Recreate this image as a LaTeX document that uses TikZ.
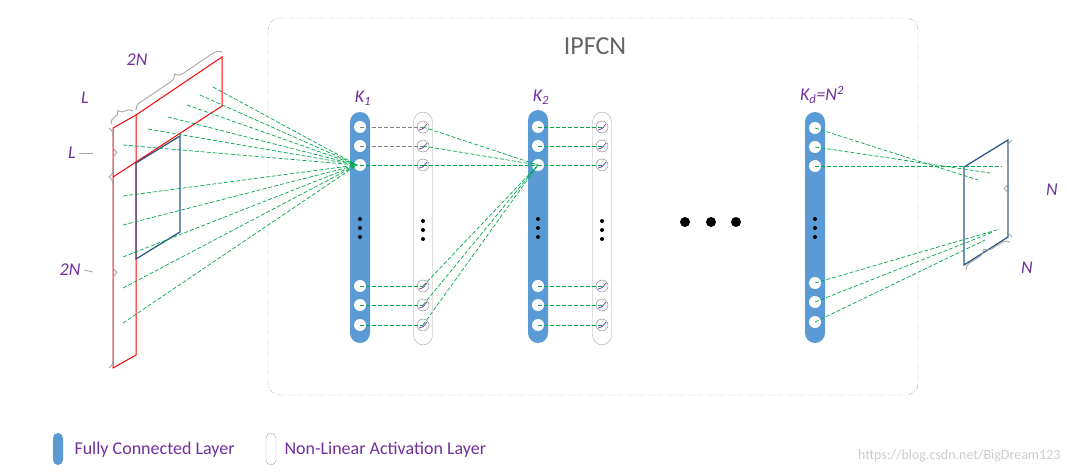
\documentclass[tikz,border=0pt]{standalone}
\usepackage{fontspec}
\setmainfont{Carlito}
\usetikzlibrary{decorations.pathreplacing}
\definecolor{pur}{HTML}{7030A0}
\definecolor{fcb}{HTML}{5B9BD5}
\definecolor{grn}{HTML}{00A84A}
\definecolor{dblue}{HTML}{2F5B8A}
\tikzset{
 fc/.style={fill=fcb,draw=none,rounded corners=10pt,minimum width=20pt,inner sep=0},
 act/.style={fill=white,draw=gray!70,rounded corners=10pt,minimum width=19pt,inner sep=0},
 neur/.style={circle,fill=white,draw=none,minimum size=12pt,inner sep=0},
 aneur/.style={circle,fill=white,draw=gray,minimum size=12pt,inner sep=0,
   path picture={\draw[pur,line width=0.7pt] ([xshift=-4pt,yshift=-3pt]path picture bounding box.center) .. controls ([xshift=0pt,yshift=-2pt]path picture bounding box.center) .. ([xshift=4pt,yshift=3pt]path picture bounding box.center);}},
 gd/.style={grn,dash pattern=on 4pt off 2pt,line width=0.7pt},
 gyd/.style={gray,dash pattern=on 4pt off 2pt,line width=0.7pt},
 lab/.style={pur,font=\itshape\fontsize{18}{18}\selectfont},
 br/.style={gray!70,line width=0.9pt,decorate,decoration={brace,amplitude=8pt}},
 dot/.style={circle,fill=black,inner sep=0,minimum size=4pt},
 bdot/.style={circle,fill=black,inner sep=0,minimum size=10pt}
}
\begin{document}
\begin{tikzpicture}[x=1pt,y=-1pt]
\useasboundingbox[fill=white] (0,0) rectangle (1067,473);
% frame
\draw[gray!60,dash pattern=on 5pt off 2pt on 1pt off 2pt,rounded corners=12pt] (268,18) rectangle (918,395);
\node[gray!80!black,font=\fontsize{26}{26}\selectfont] (title) at (595,46) {IPFCN};
% layers
\node[fc,minimum height=231pt] (F1) at (360,227.5) {};
\node[act,minimum height=233pt] (A1) at (423,228.5) {};
\node[fc,minimum height=233pt] (F2) at (538,226.5) {};
\node[act,minimum height=233pt] (A2) at (602,228.5) {};
\node[fc,minimum height=231pt] (F3) at (815,227.5) {};
\foreach \L/\x/\xa in {1/360/423,2/538/602}{
 \foreach \y [count=\i] in {127,146,165,286,305,325}{
  \node[neur] (f\L\i) at (\x,\y) {};
  \node[aneur] (a\L\i) at (\xa,\y) {};
 }
 \foreach \y in {219,228,237}{\node[dot] at (\x,\y) {}; \node[dot] at (\xa,\y+2) {};}
}
\foreach \y [count=\i] in {128,147,166,283,302,322}{\node[neur] (f3\i) at (815,\y) {};}
\foreach \y in {219,228,237}{\node[dot] at (815,\y) {};}
\node[bdot] (e1) at (685,222) {};
\node[bdot] (e2) at (711,222) {};
\node[bdot] (e3) at (736,222) {};
\node[lab] (k1) at (363,98) {K\textsubscript{1}};
\node[lab] (k2) at (541,97) {K\textsubscript{2}};
\node[lab] (kd) at (822,95) {K\textsubscript{d}=N\textsuperscript{2}};
% input block
\draw[red,line width=1pt] (113,128) -- (113,368) -- (136,355) -- (136,115) -- (222,57) -- (222,106) -- (113,177);
\draw[red,line width=1pt] (113,128) -- (136,115);
\draw[dblue,line width=1.3pt] (136,163) -- (180,136) -- (180,232) -- (136,259) -- cycle;
\draw[br] (109,128) -- (109,177);
\draw[br] (109,177) -- (109,368);
\draw[br] (111,124) -- (133,111);
\draw[br] (136,110) -- (222,52);
\node[lab] (L1) at (72,153) {L};
\node[lab] (L2) at (85,98) {L};
\node[lab] (N1) at (70,270) {2N};
\node[lab] (N2) at (137,60) {2N};
\draw[gray!70,line width=0.8pt] (L1.east) -- (93,153);
\draw[gray!70,line width=0.8pt] (N1.east) -- (93,272);
% input connections
\coordinate (tgt) at (357,165);
\foreach \px/\py in {213/87,200/95,187/105,168/117,148/129,123/145,123/196,123/225,123/257,123/288,123/323}
 \draw[gd] (\px,\py) -- (tgt);
% layer 1 -> act1
\draw[gyd] (f11.center) -- (a11.center); \draw[gyd] (f12.center) -- (a12.center); \draw[gd] (f13.center) -- (a13.center);
\foreach \i in {4,5,6}{\draw[gd] (f1\i.center) -- (a1\i.center);}
\foreach \i in {1,2,3,4,5,6}{\draw[gd] (a1\i.center) -- (f23.center);}
\foreach \i in {1,...,6}{\draw[gd] (f2\i.center) -- (a2\i.center);}
% output
\draw[dblue,line width=1.3pt] (964,167) -- (1008,140) -- (1008,237) -- (964,265) -- cycle;
\foreach \i/\px/\py in {1/978/180,2/990/173,3/1002/166,4/1000/229,5/993/232,6/985/240}
 \draw[gd] (f3\i.center) -- (\px,\py);
\draw[br] (1012,237) -- (1012,140);
\draw[br] (966,270) -- (1010,242);
\node[lab] (No1) at (1052,190) {N};
\node[lab] (No2) at (1027,268) {N};
% legend
\node[fc,minimum width=10pt,minimum height=32pt,rounded corners=5pt] (lg1) at (58,449) {};
\node[pur,anchor=west,font=\fontsize{18}{18}\selectfont] (lt1) at (71,450) {Fully Connected Layer};
\node[act,minimum width=10pt,minimum height=32pt,rounded corners=5pt] (lg2) at (271,449) {};
\node[pur,anchor=west,font=\fontsize{18}{18}\selectfont] (lt2) at (281,450) {Non-Linear Activation Layer};
\node[gray!40,anchor=east,font=\fontsize{14}{14}\selectfont] (wm) at (1064,456) {https://blog.csdn.net/BigDream123};
\end{tikzpicture}
\end{document}
